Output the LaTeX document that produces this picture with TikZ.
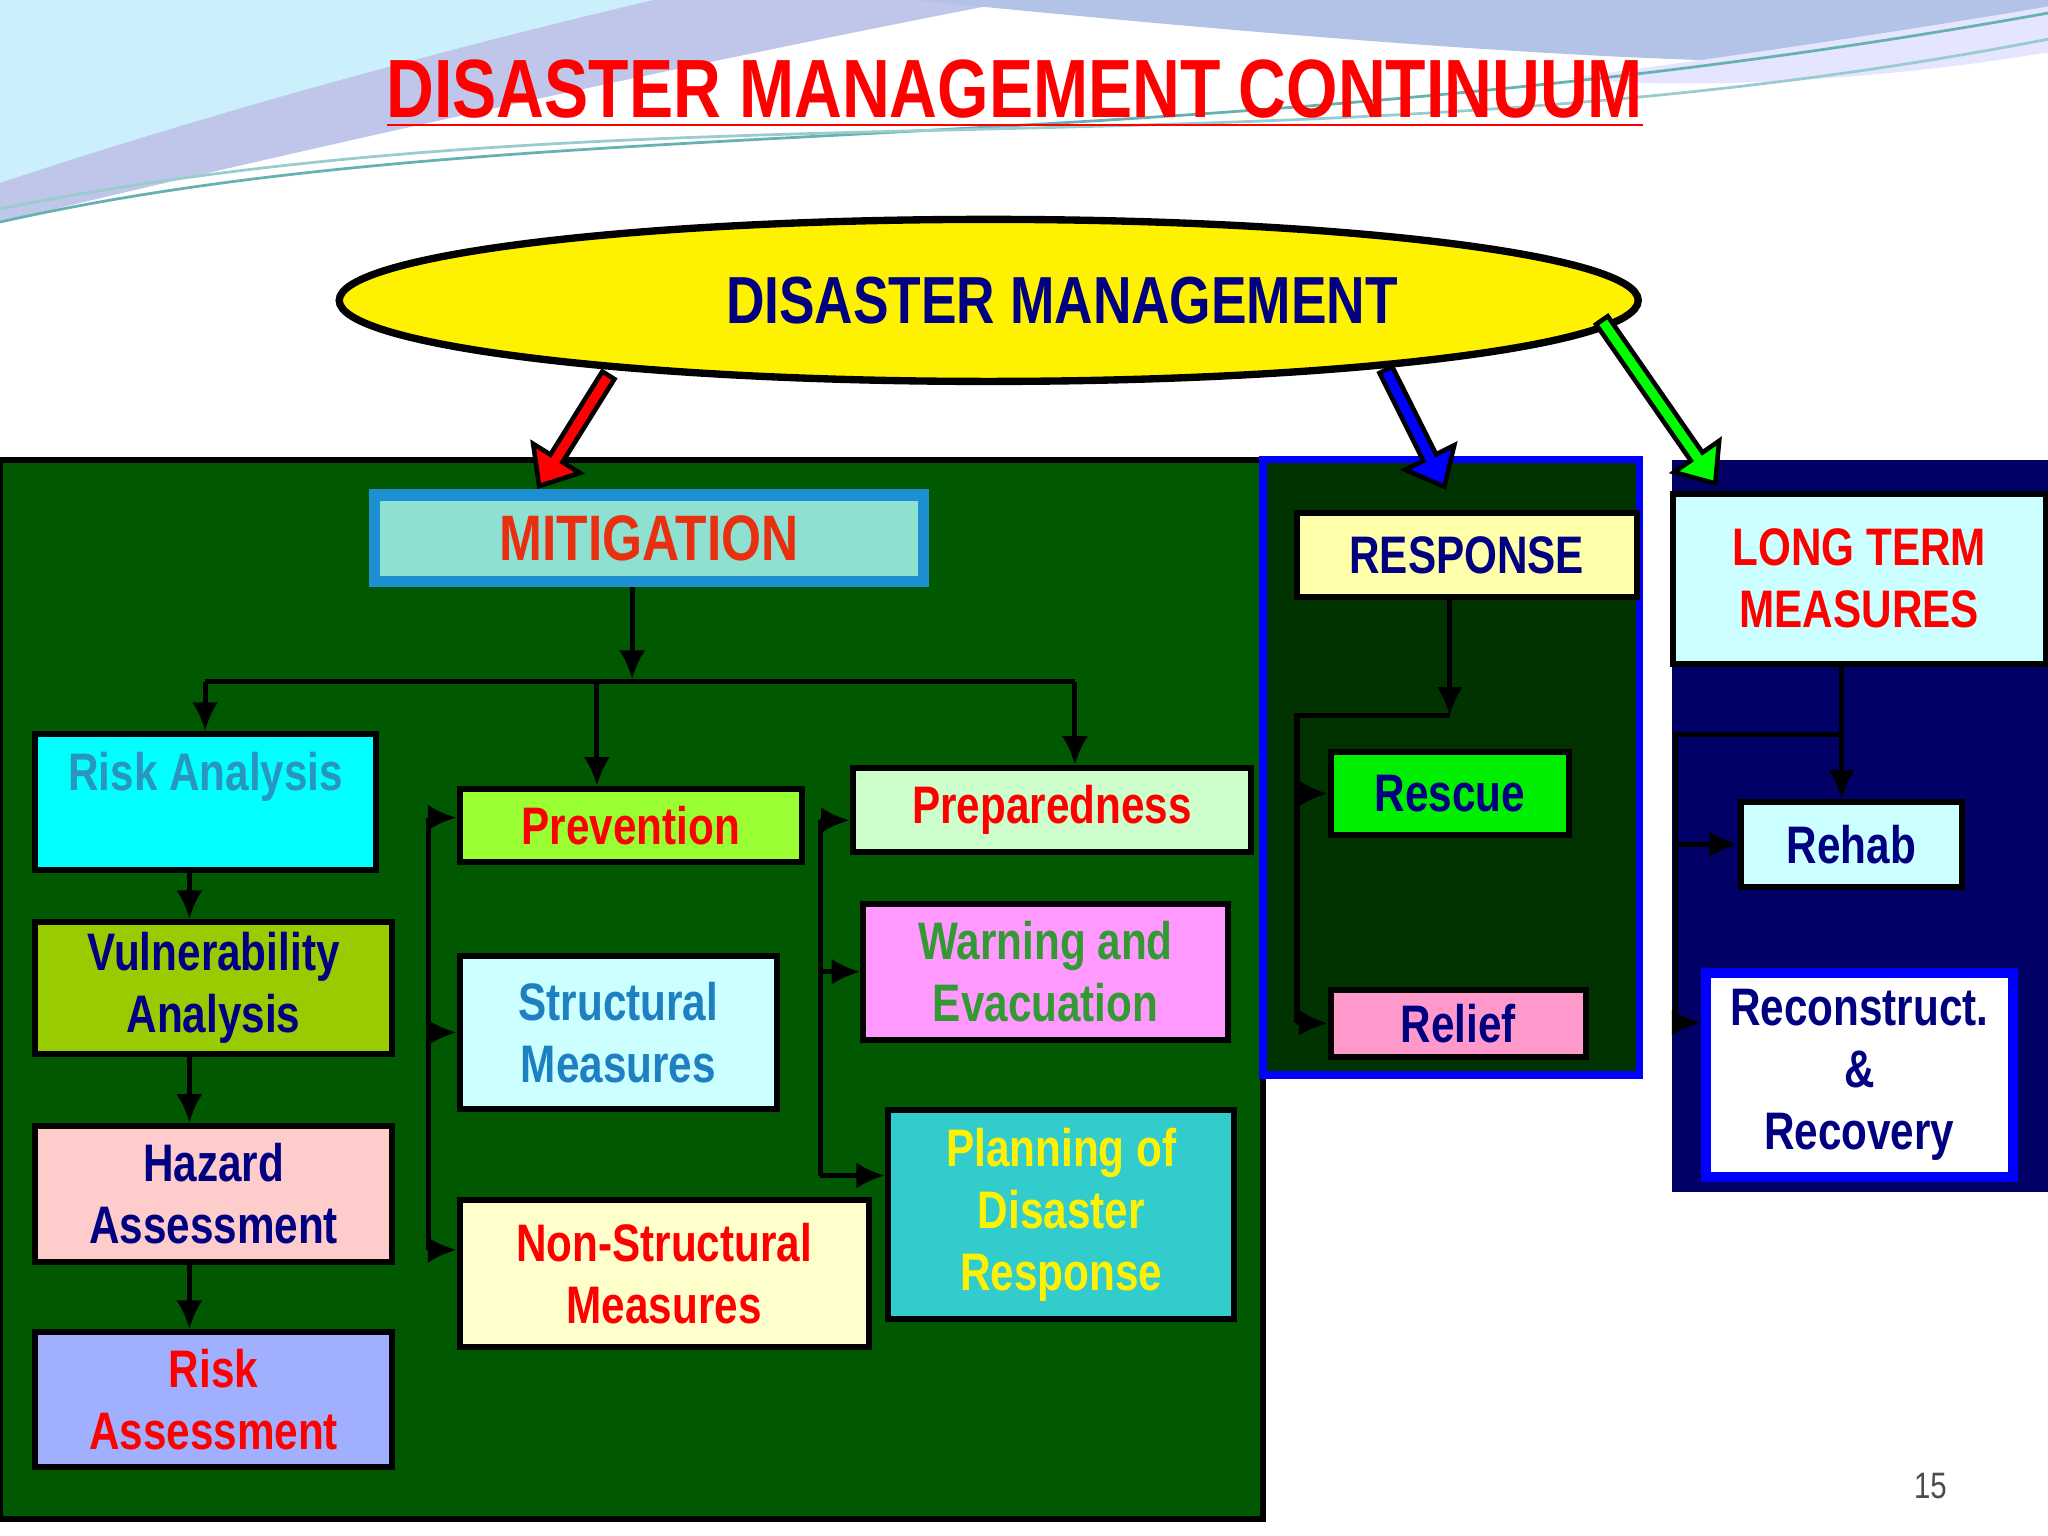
\documentclass[tikz,border=0pt]{standalone}
\usepackage{fontspec}
\setmainfont[FakeStretch=0.8]{Liberation Sans}
\usetikzlibrary{shapes.geometric,shapes.arrows,arrows.meta}
\definecolor{navy}{HTML}{000080}
\definecolor{mygreen}{HTML}{005800}
\definecolor{darkg}{HTML}{003300}
\definecolor{ltnavy}{HTML}{000066}
\tikzset{
 box/.style={draw=black,line width=1.3pt,inner sep=2pt,align=center,font=\bfseries\fontsize{11.5}{13.5}\selectfont},
 conn/.style={black,line width=1.1pt},
 carr/.style={conn,-{Latex[length=2.2mm,width=2mm]}},
 bigarr/.style={single arrow,draw=black,line width=1pt,minimum width=0.42cm,single arrow head extend=0.05cm,single arrow tip angle=80,inner sep=0pt}
}
\begin{document}
\begin{tikzpicture}[x=0.01cm,y=-0.01cm]
\useasboundingbox (0,0) rectangle (1568,1176);
\fill[white] (0,0) rectangle (1568,1176);
% top waves
\fill[cyan!35!blue!25] (0,0)--(780,0) .. controls (520,50) and (250,110) .. (0,170)--cycle;
\fill[cyan!20] (0,0)--(500,0) .. controls (330,40) and (150,90) .. (0,140)--cycle;
\fill[cyan!45!blue!30] (700,0)--(1568,0)--(1568,40) .. controls (1400,60) and (1100,40) .. (700,0)--cycle;
\fill[blue!10] (1200,60) .. controls (1350,40) and (1480,20) .. (1568,5)--(1568,40) .. controls (1450,60) and (1300,70) .. (1200,60);
\draw[teal!60,line width=0.6pt] (0,170) .. controls (400,80) and (900,130) .. (1568,10);
\draw[teal!40,line width=0.6pt] (0,160) .. controls (500,60) and (1000,140) .. (1568,30);
% title
\node[text=red,font=\bfseries\fontsize{18}{22}\selectfont] (title) at (777,72) {\underline{DISASTER MANAGEMENT CONTINUUM}};
% ellipse
\node[ellipse,draw=black,line width=1.6pt,fill=yellow,minimum width=9.94cm,minimum height=1.24cm,text=navy,font=\bfseries\fontsize{14.5}{18}\selectfont] (dm) at (757,230) {\hspace*{2.2em}DISASTER MANAGEMENT};
% panels
\filldraw[fill=mygreen,draw=black,line width=1.2pt] (0,352) rectangle (967,1163);
\filldraw[fill=darkg,draw=blue,line width=1.6pt] (967,352) rectangle (1255,823);
\fill[ltnavy] (1280,352) rectangle (1568,913);
% big arrows
\node[bigarr,fill=red,minimum height=1.0cm,rotate=238] (ar1) at (441,327) {};
\node[bigarr,fill=blue,minimum height=1.0cm,rotate=-63.4] (ar2) at (1082,325) {};
\node[bigarr,fill=green,minimum height=1.52cm,rotate=-55.2] (ar3) at (1268,305) {};
% boxes
\node[box,fill={rgb,255:red,142;green,224;blue,208},draw={rgb,255:red,30;green,144;blue,210},line width=2.5pt,minimum width=4.2cm,minimum height=0.66cm,text={rgb,255:red,232;green,48;blue,16},font=\bfseries\fontsize{14}{17}\selectfont] (mit) at (497,412) {MITIGATION};
\node[box,fill={rgb,255:red,0;green,255;blue,255},minimum width=2.61cm,minimum height=1.04cm,text={rgb,255:red,40;green,150;blue,190}] (ra) at (157.5,614) {Risk Analysis\\\mbox{}};
\node[box,fill={rgb,255:red,153;green,204;blue,0},minimum width=2.73cm,minimum height=1.01cm,text=navy] (va) at (163.5,756.5) {Vulnerability\\Analysis};
\node[box,fill={rgb,255:red,255;green,204;blue,204},minimum width=2.73cm,minimum height=1.04cm,text=navy] (ha) at (163.5,914) {Hazard\\Assessment};
\node[box,fill={rgb,255:red,160;green,176;blue,255},minimum width=2.73cm,minimum height=1.03cm,text=red] (rsa) at (163.5,1071.5) {Risk\\Assessment};
\node[box,fill={rgb,255:red,153;green,255;blue,51},minimum width=2.62cm,minimum height=0.56cm,text=red] (prev) at (483,632) {Prevention};
\node[box,fill={rgb,255:red,204;green,255;blue,255},minimum width=2.43cm,minimum height=1.17cm,text={rgb,255:red,30;green,128;blue,192}] (str) at (473.5,790.5) {Structural\\Measures};
\node[box,fill={rgb,255:red,255;green,255;blue,204},minimum width=3.13cm,minimum height=1.12cm,text=red] (nons) at (508.5,975) {Non-Structural\\Measures};
\node[box,fill={rgb,255:red,204;green,255;blue,204},minimum width=3.05cm,minimum height=0.64cm,text=red] (prep) at (805.5,620) {Preparedness};
\node[box,fill={rgb,255:red,255;green,153;blue,255},minimum width=2.79cm,minimum height=1.04cm,text={rgb,255:red,51;green,153;blue,51}] (warn) at (800.5,744) {Warning and\\Evacuation};
\node[box,fill={rgb,255:red,51;green,204;blue,204},minimum width=2.65cm,minimum height=1.6cm,text=yellow] (plan) at (812.5,930) {Planning of\\Disaster\\Response};
\node[box,fill={rgb,255:red,255;green,255;blue,170},minimum width=2.6cm,minimum height=0.64cm,text=navy] (resp) at (1123,425) {RESPONSE};
\node[box,fill={rgb,255:red,0;green,238;blue,0},minimum width=1.82cm,minimum height=0.63cm,text=navy] (resc) at (1110,607.5) {Rescue};
\node[box,fill={rgb,255:red,255;green,153;blue,204},minimum width=1.95cm,minimum height=0.51cm,text=navy] (rel) at (1116.5,783.5) {Relief};
\node[box,fill={rgb,255:red,204;green,255;blue,255},minimum width=2.85cm,minimum height=1.3cm,text=red] (ltm) at (1423.5,443) {LONG TERM\\MEASURES};
\node[box,fill={rgb,255:red,204;green,255;blue,255},minimum width=1.69cm,minimum height=0.65cm,text=navy] (rehab) at (1417.5,646.5) {Rehab};
\node[box,fill=white,draw=blue,line width=2.2pt,minimum width=2.35cm,minimum height=1.56cm,text=navy] (rec) at (1423.5,823) {Reconstruct.\\\&\\Recovery};
% connectors
\coordinate (b1) at (157,522); \coordinate (b2) at (823,522); \coordinate (bm) at (457,522);
\draw[carr] (mit.south -| 484,0) -- (484,520);
\draw[conn] (b1) -- (b2);
\draw[carr] (b1) -- (ra.north -| b1);
\draw[carr] (bm) -- (prev.north -| bm);
\draw[carr] (b2) -- (prep.north -| b2);
\draw[carr] (ra.south -| 145,0) -- (va.north -| 145,0);
\draw[carr] (va.south -| 145,0) -- (ha.north -| 145,0);
\draw[carr] (ha.south -| 145,0) -- (rsa.north -| 145,0);
\coordinate (p1) at (328,626); \coordinate (p2) at (328,957);
\draw[conn] (p1) -- (p2);
\draw[carr] (p1) -- (prev.west |- p1);
\draw[carr] (str.west -| p1) -- (str.west);
\draw[carr] (p2) -- (nons.west |- p2);
\coordinate (q1) at (628,628); \coordinate (q2) at (628,900);
\draw[conn] (q1) -- (q2);
\draw[carr] (q1) -- (prep.west |- q1);
\draw[carr] (warn.west -| q1) -- (warn.west);
\draw[carr] (q2) -- (plan.west |- q2);
\coordinate (r1) at (1110,548); \coordinate (r2) at (993,548); \coordinate (r3) at (993,783);
\draw[carr] (resp.south -| r1) -- (r1);
\draw[conn] (r1) -- (r2) -- (r3);
\draw[carr] (resc.west -| r2) -- (resc.west);
\draw[carr] (r3) -- (rel.west);
\coordinate (l1) at (1410,562); \coordinate (l2) at (1283,562); \coordinate (l3) at (1283,783);
\draw[carr] (ltm.south -| l1) -- (rehab.north -| l1);
\draw[conn] (l1) -- (l2) -- (l3);
\draw[carr] (rehab.west -| l2) -- (rehab.west);
\draw[carr] (l3) -- (rec.west |- l3);
\node[text=black!70,font=\rmfamily\fontsize{8}{9}\selectfont] (pg) at (1478,1138) {15};
\end{tikzpicture}
\end{document}
